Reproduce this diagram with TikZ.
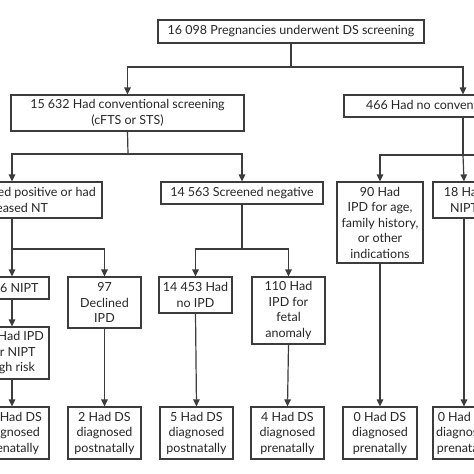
\documentclass[tikz,border=0pt]{standalone}
\usepackage{fontspec}
\setmainfont{Lato}
\usetikzlibrary{arrows.meta}
\definecolor{ln}{HTML}{3C3C3C}
\definecolor{tx}{HTML}{262626}
\tikzset{
  box/.style={draw=ln, line width=1.2pt, inner sep=0pt, align=center, text=tx,
    font=\fontsize{12.5}{15.5}\selectfont},
  arr/.style={draw=ln, line width=1.2pt, -{Triangle[length=7pt,width=6.5pt]}},
  ln/.style={draw=ln, line width=1.2pt}
}
\newcommand{\bx}[6]{\node[box, minimum width=#4pt, minimum height=#5pt] (#1) at (#2,#3) {#6};}
\begin{document}
\begin{tikzpicture}[x=1pt,y=-1pt]
\useasboundingbox (0,0) rectangle (474,474);
\clip (0,0) rectangle (474,474);
\fill[white] (0,0) rectangle (474,474);
\bx{top}{291}{31.5}{266}{23}{16 098 Pregnancies underwent DS screening}
\bx{conv}{127.5}{113}{233}{36}{15 632 Had conventional screening\\(cFTS or STS)}
\bx{noconv}{463}{106}{238}{22}{466 Had no conventional screening}
\bx{pos}{12}{200}{180}{36}{1069 Screened positive or had\\increased NT}
\bx{neg}{242}{193}{162}{22}{14 563 Screened negative}
\bx{nipt}{12}{288}{74}{22}{966 NIPT}
\bx{decl}{104.5}{302.5}{73}{51}{97\\Declined\\IPD}
\bx{noipd}{195.5}{295}{73}{36}{14 453 Had\\no IPD}
\bx{fetal}{288.5}{310.5}{73}{67}{110 Had\\IPD for\\fetal\\anomaly}
\bx{age}{380}{222.5}{86}{81}{90 Had\\IPD for age,\\family history,\\or other\\indications}
\bx{nipta}{464}{200}{62}{36}{18 Had\\NIPT}
\bx{ipdhr}{12}{353}{74}{52}{26 Had IPD\\for NIPT\\high risk}
\bx{ra}{12}{433}{74}{52}{23 Had DS\\diagnosed\\prenatally}
\bx{rb}{104.5}{433}{73}{52}{2 Had DS\\diagnosed\\postnatally}
\bx{rc}{196.5}{433}{73}{52}{5 Had DS\\diagnosed\\postnatally}
\bx{rd}{287.5}{433}{73}{52}{4 Had DS\\diagnosed\\prenatally}
\bx{re}{380}{433}{74}{52}{0 Had DS\\diagnosed\\prenatally}
\bx{rf}{464}{433}{62}{52}{0 Had DS\\diagnosed\\prenatally}
\coordinate (j1) at (291,67);
\coordinate (j2) at (128,154);
\coordinate (j3) at (463,155);
\coordinate (j4) at (12,249);
\coordinate (j5) at (242,249);
\coordinate (jr) at (490,155);
\draw[ln] (top.south) -- (j1);
\draw[arr] (j1) -| (conv.north);
\draw[arr] (j1) -| (noconv.north);
\draw[ln] (conv.south) -- (j2);
\draw[arr] (j2) -| (pos.north);
\draw[arr] (j2) -| (neg.north);
\draw[ln] (noconv.south) -- (j3);
\draw[arr] (j3) -| (age.north);
\draw[arr] (j3) -- (nipta.north);
\draw[ln] (j3) -- (jr);
\draw[arr] (pos.south) -- (nipt.north);
\draw[arr] (j4) -| (decl.north);
\draw[ln] (neg.south) -- (j5);
\draw[arr] (j5) -| (noipd.north);
\draw[arr] (j5) -| (fetal.north);
\draw[arr] (nipt.south) -- (ipdhr.north);
\draw[arr] (ipdhr.south) -- (ra.north);
\draw[arr] (decl.south) -- (rb.north);
\draw[arr] (noipd.south) -- (rc.north);
\draw[arr] (fetal.south) -- (rd.north);
\draw[arr] (age.south) -- (re.north);
\draw[arr] (nipta.south) -- (rf.north);
\end{tikzpicture}
\end{document}
